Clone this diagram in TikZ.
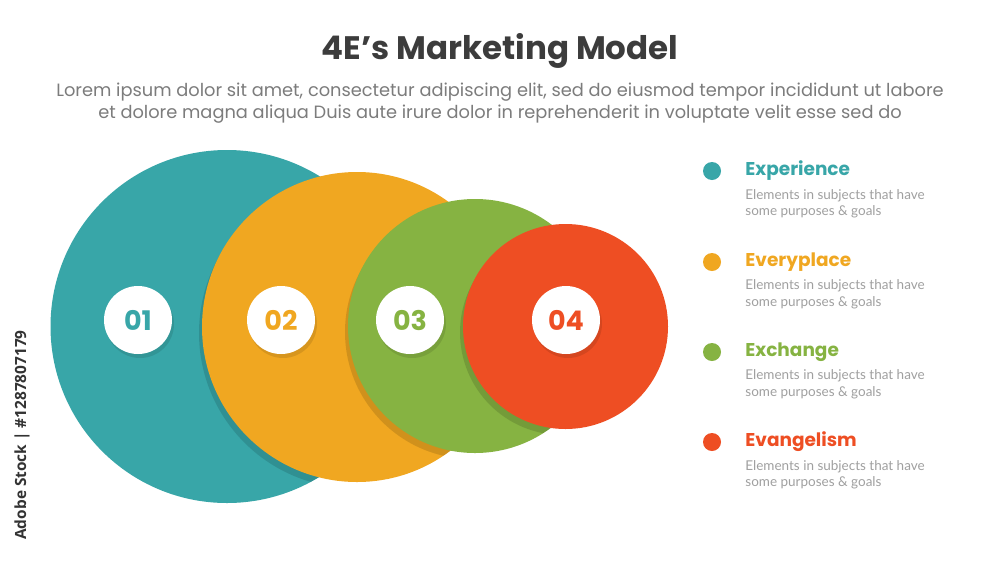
\documentclass[tikz,border=0pt]{standalone}
\usepackage{fontspec}
\setmainfont{Poppins}
\newfontfamily\latofont{Lato}
\newfontfamily\opensans{Open Sans}
\usetikzlibrary{positioning}

\definecolor{tealc}{HTML}{38A6A8}
\definecolor{orangec}{HTML}{F0A721}
\definecolor{greenc}{HTML}{86B342}
\definecolor{redc}{HTML}{EE4E23}
\definecolor{titlegrey}{HTML}{3C3C3C}
\definecolor{subgrey}{HTML}{7C7C7C}
\definecolor{descgrey}{HTML}{A0A0A0}

\tikzset{
  ring/.style={circle, inner sep=0pt, minimum size=#1},
  ringshadow/.style={fill=black, opacity=0.13},
  badge/.style={circle, fill=white, inner sep=0pt, minimum size=68pt,
    font=\bfseries\fontsize{27}{27}\selectfont},
  dot/.style={circle, inner sep=0pt, minimum size=18pt},
  headline/.style={anchor=west, inner sep=0pt,
    font=\bfseries\fontsize{18.5}{18.5}\selectfont},
  blurb/.style={align=left, inner sep=0pt, text=descgrey,
    font=\latofont\fontsize{13.5}{16.5}\selectfont},
}

\begin{document}
\begin{tikzpicture}[x=1pt,y=-1pt]
        \fill[white] (0,0) rectangle (1000,563);
        \useasboundingbox (0,0) rectangle (1000,563);

        % Title.
        \node[anchor=base, text=titlegrey, font=\bfseries\fontsize{32.5}{32.5}\selectfont] (title) at (500,59) {4E’s Marketing Model};
        \node[text=subgrey, align=center, font=\fontsize{17.8}{22}\selectfont] (sub) at (500,103)
            {Lorem ipsum dolor sit amet, consectetur adipiscing elit, sed do eiusmod tempor incididunt ut labore\\
             et dolore magna aliqua Duis aute irure dolor in reprehenderit in voluptate velit esse sed do};

        % Stock mark.
        \node[rotate=90, text=black!80, font=\opensans\bfseries\fontsize{15.4}{15.4}\selectfont] (stock) at (22,435) {Adobe Stock | \#1287807179};

        % Circles.
        \coordinate (o1) at (227,326.5);
        \coordinate (o2) at (357,327);
        \coordinate (o3) at (475,326);
        \coordinate (o4) at (565.5,326.5);
        \node[ring=353pt, fill=tealc] (c1) at (o1) {};
        \begin{scope}
            \clip (o1) circle (176.5);
            \fill[ringshadow] ([shift={(-3,6)}]o2) circle (155);
        \end{scope}
        \node[ring=310pt, fill=orangec] (c2) at (o2) {};
        \begin{scope}
            \clip (o2) circle (155);
            \fill[ringshadow] ([shift={(-3,6)}]o3) circle (127);
        \end{scope}
        \node[ring=254pt, fill=greenc] (c3) at (o3) {};
        \begin{scope}
            \clip (o3) circle (127);
            \fill[ringshadow] ([shift={(-3,6)}]o4) circle (102.5);
        \end{scope}
        \node[ring=205pt, fill=redc] (c4) at (o4) {};

        % Badges.
        \coordinate (p1) at (138,320);
        \coordinate (p2) at (281,320);
        \coordinate (p3) at (410,320);
        \coordinate (p4) at (566,320);
        \fill[ringshadow, opacity=0.1] ([shift={(2,4)}]p1) circle (34);
        \fill[ringshadow, opacity=0.1] ([shift={(2,4)}]p2) circle (34);
        \fill[ringshadow, opacity=0.1] ([shift={(2,4)}]p3) circle (34);
        \fill[ringshadow, opacity=0.1] ([shift={(2,4)}]p4) circle (34);
        \node[badge, text=tealc] (b1) at (p1) {01};
        \node[badge, text=orangec] (b2) at (p2) {02};
        \node[badge, text=greenc] (b3) at (p3) {03};
        \node[badge, text=redc] (b4) at (p4) {04};

        % Legend.
        \node[dot, fill=tealc] (d1) at (712,171) {};
        \node[headline, text=tealc, right=24pt of d1] (t1) {Experience};
        \node[blurb, below right=8pt and 0pt of t1.south west] (e1) {Elements in subjects that have\\some purposes \& goals};
        \node[dot, fill=orangec] (d2) at (712,262) {};
        \node[headline, text=orangec, right=24pt of d2] (t2) {Everyplace};
        \node[blurb, below right=8pt and 0pt of t2.south west] (e2) {Elements in subjects that have\\some purposes \& goals};
        \node[dot, fill=greenc] (d3) at (712,352) {};
        \node[headline, text=greenc, right=24pt of d3] (t3) {Exchange};
        \node[blurb, below right=8pt and 0pt of t3.south west] (e3) {Elements in subjects that have\\some purposes \& goals};
        \node[dot, fill=redc] (d4) at (712,442) {};
        \node[headline, text=redc, right=24pt of d4] (t4) {Evangelism};
        \node[blurb, below right=8pt and 0pt of t4.south west] (e4) {Elements in subjects that have\\some purposes \& goals};
\end{tikzpicture}
\end{document}
